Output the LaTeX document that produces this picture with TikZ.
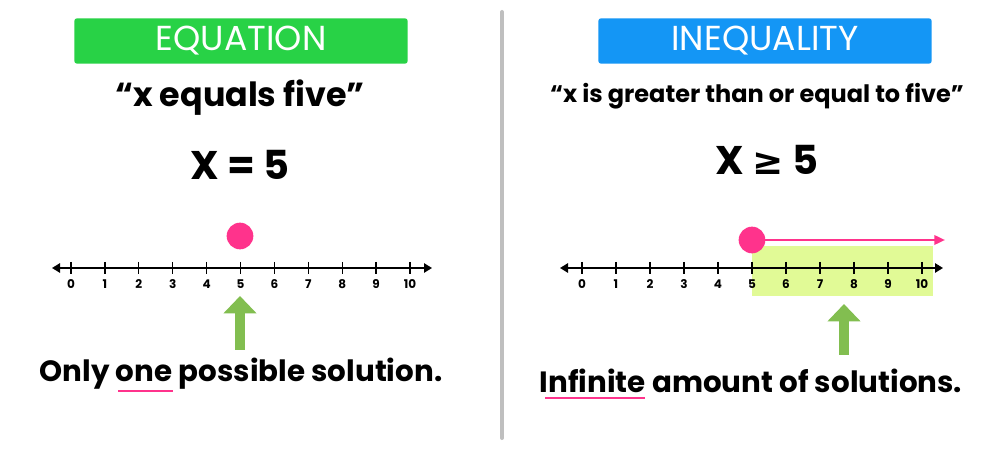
\documentclass[tikz,border=0pt]{standalone}
\usepackage{fontspec}
\setmainfont{Poppins}
\newfontfamily\djvfont{DejaVu Sans}
\usetikzlibrary{arrows.meta}
\definecolor{pinkc}{RGB}{255,51,140}
\definecolor{greenb}{RGB}{40,210,70}
\definecolor{blueb}{RGB}{20,150,245}
\definecolor{garrow}{RGB}{130,190,80}
\definecolor{lime}{RGB}{225,250,150}
\tikzset{x=0.75pt,y=-0.75pt,
 title/.style={rounded corners=2pt,minimum width=250pt,minimum height=34pt,text=white,font=\fontsize{26}{28}\selectfont},
 tick/.style={font=\fontsize{9}{10}\selectfont\bfseries,inner sep=0pt},
 axis/.style={line width=1.3pt,{Triangle[length=6pt,width=7pt]}-{Triangle[length=6pt,width=7pt]}},
 garr/.style={garrow,line width=8pt,-{Triangle[length=13pt,width=24pt]}},
 ul/.style={pinkc,line width=1.8pt}}
\begin{document}
\begin{tikzpicture}
\useasboundingbox (0,0) rectangle (1000,452);
\fill[white] (0,0) rectangle (1000,452);
\draw[gray!50,line width=3pt,line cap=round] (502,12) -- (502,438);
% left
\node[title,fill=greenb] (t1) at (241,41) {EQUATION};
\node[font=\fontsize{25}{28}\selectfont\bfseries] (q1) at (240,98) {“x equals five”};
\node[font=\fontsize{30}{32}\selectfont\bfseries] (e1) at (240,165) {X = 5};
\coordinate (la) at (52,268); \coordinate (lb) at (432,268);
\draw[axis] (la) -- (lb);
\foreach \i in {0,...,10}{
 \draw[line width=1pt] (71+33.9*\i,262) -- (71+33.9*\i,274);
 \node[tick] (lt\i) at (71+33.9*\i,284) {\i};}
\fill[pinkc] (240,236) circle (10pt);
\coordinate (g1a) at (240,350); \coordinate (g1b) at (240,296);
\draw[garr] (g1a) -- (g1b);
\node[font=\fontsize{22}{24}\selectfont\bfseries] (s1) at (241,374) {Only one possible solution.};
\draw[ul] (118,391) -- (173,391);
% right
\node[title,fill=blueb] (t2) at (765,41) {INEQUALITY};
\node[font=\fontsize{18}{20}\selectfont\bfseries] (q2) at (757,96) {“x is greater than or equal to five”};
\node[font=\fontsize{30}{32}\selectfont\bfseries] (e2) at (767,160) {X {\djvfont\fontsize{28}{30}\selectfont ≥} 5};
\fill[lime] (752,246) rectangle (933,296);
\coordinate (ra) at (560,268); \coordinate (rb) at (943,268);
\draw[axis] (ra) -- (rb);
\foreach \i in {0,...,10}{
 \draw[line width=1pt] (582+34*\i,262) -- (582+34*\i,274);
 \node[tick] (rt\i) at (582+34*\i,284) {\i};}
\coordinate (p1) at (752,240); \coordinate (p2) at (945,240);
\draw[pinkc,line width=1.8pt,-{Triangle[length=8pt,width=7pt]}] (p1) -- (p2);
\fill[pinkc] (p1) circle (10pt);
\coordinate (g2a) at (844,355); \coordinate (g2b) at (844,304);
\draw[garr] (g2a) -- (g2b);
\node[font=\fontsize{22}{24}\selectfont\bfseries] (s2) at (751,381) {Infinite amount of solutions.};
\draw[ul] (545,398) -- (645,398);
\end{tikzpicture}
\end{document}
